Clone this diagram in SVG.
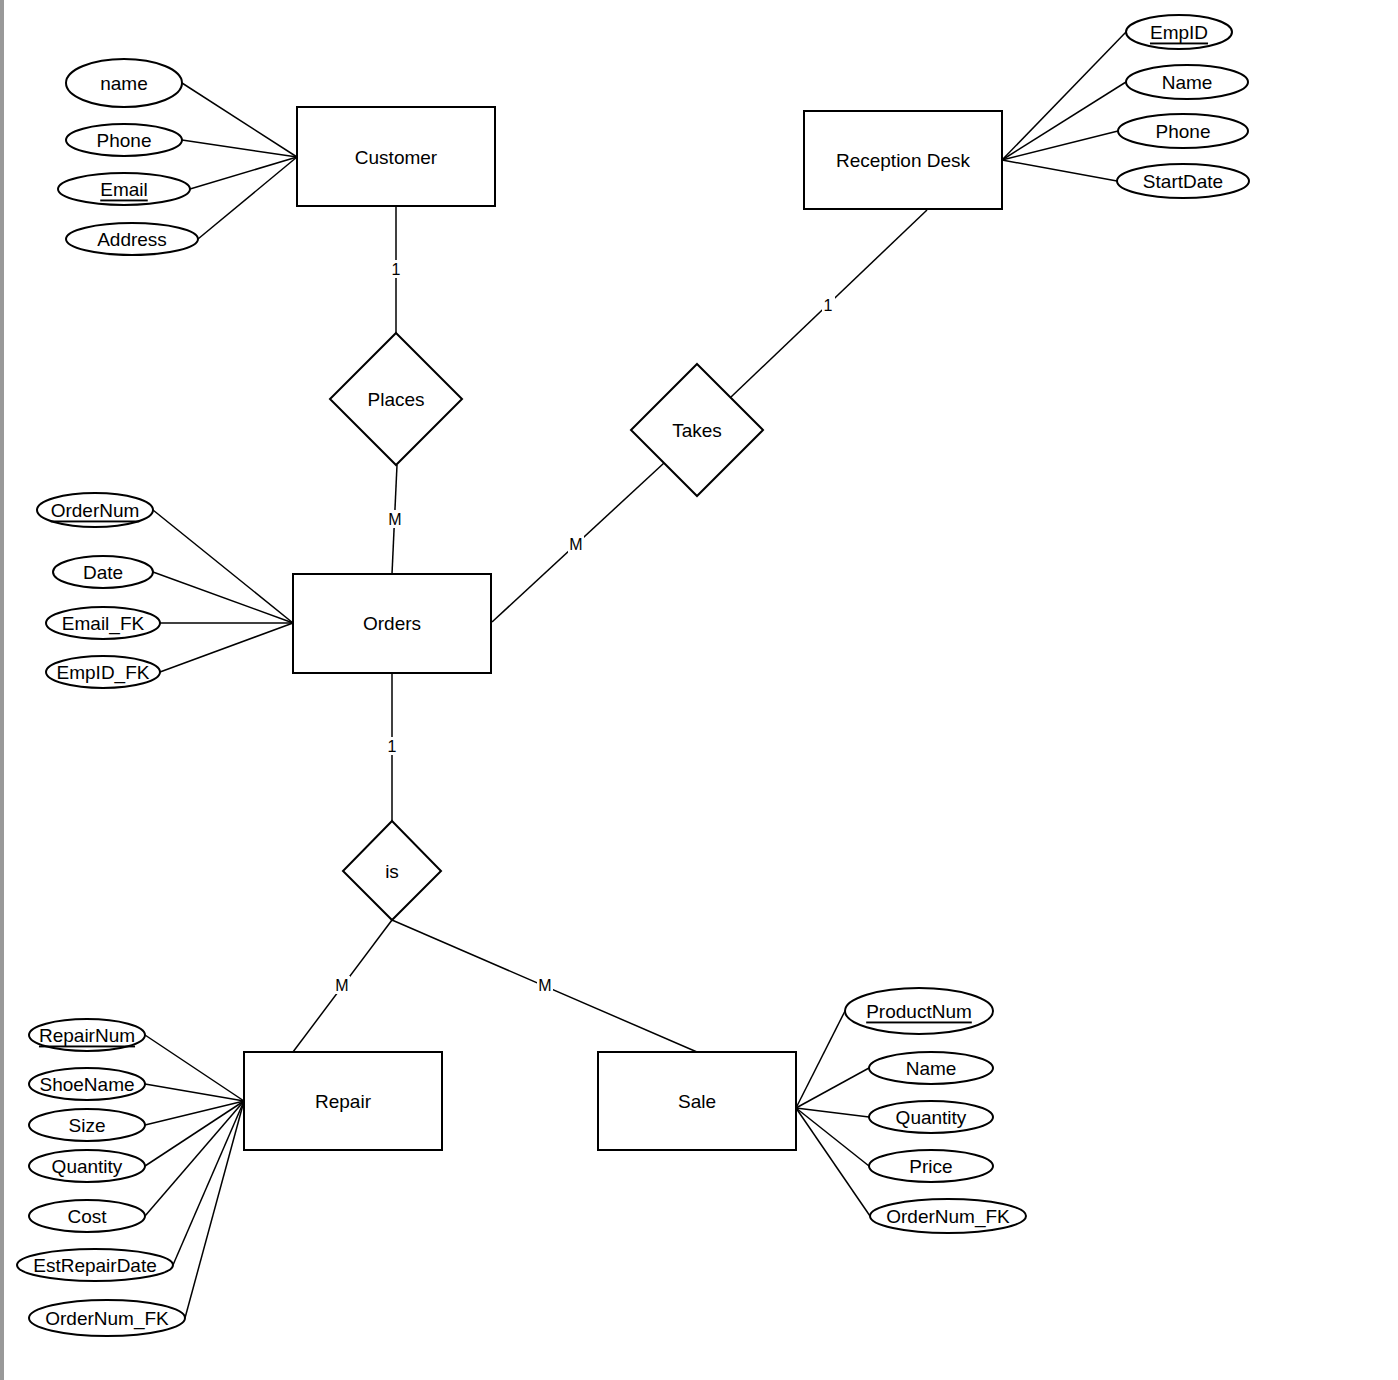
<svg xmlns="http://www.w3.org/2000/svg" width="1398" height="1380" viewBox="0 0 1398 1380">
<style>
.s{fill:#fff;stroke:#000;stroke-width:2}
text{font-family:"Liberation Sans",Arial,sans-serif;font-size:19px;text-anchor:middle;dominant-baseline:central;fill:#000}
.u{text-decoration:underline}
.c line{stroke:#000;stroke-width:1.5}
.lb{fill:#fff}
.k{font-size:16px}
</style>
<rect width="1398" height="1380" fill="#fff"/>
<rect x="0" y="0" width="4" height="1380" fill="#999"/>
<g class="c" id="connectors">
<line x1="297" y1="157" x2="182" y2="83"/><line x1="297" y1="157" x2="182" y2="140"/><line x1="297" y1="157" x2="190" y2="189"/><line x1="297" y1="157" x2="198" y2="239"/>
<line x1="1002" y1="160" x2="1126" y2="32"/><line x1="1002" y1="160" x2="1126" y2="82"/><line x1="1002" y1="160" x2="1118" y2="131"/><line x1="1002" y1="160" x2="1117" y2="181"/>
<line x1="396" y1="206" x2="396" y2="333"/><line x1="397" y1="465" x2="392" y2="574"/>
<line x1="731" y1="397" x2="927" y2="210"/><line x1="664" y1="463" x2="492" y2="622"/>
<line x1="293" y1="623" x2="153" y2="510"/><line x1="293" y1="623" x2="153" y2="572"/><line x1="293" y1="623" x2="160" y2="623"/><line x1="293" y1="623" x2="160" y2="672"/>
<line x1="392" y1="673" x2="392" y2="821"/>
<line x1="392" y1="920" x2="293" y2="1052"/><line x1="392" y1="920" x2="697" y2="1052"/>
<line x1="244" y1="1101" x2="145" y2="1035"/><line x1="244" y1="1101" x2="145" y2="1084"/><line x1="244" y1="1101" x2="145" y2="1125"/><line x1="244" y1="1101" x2="145" y2="1166"/><line x1="244" y1="1101" x2="145" y2="1216"/><line x1="244" y1="1101" x2="173" y2="1265"/><line x1="244" y1="1101" x2="185" y2="1318"/>
<line x1="796" y1="1108" x2="845" y2="1011"/><line x1="796" y1="1108" x2="869" y2="1068"/><line x1="796" y1="1108" x2="869" y2="1117"/><line x1="796" y1="1108" x2="869" y2="1166"/><line x1="796" y1="1108" x2="870" y2="1216"/>
<rect class="lb" x="390" y="260" width="13" height="18"/><text class="k" x="396" y="269">1</text>
<rect class="lb" x="387" y="510" width="16" height="18"/><text class="k" x="395" y="519">M</text>
<rect class="lb" x="822" y="296" width="13" height="18"/><text class="k" x="828" y="305">1</text>
<rect class="lb" x="568" y="535" width="16" height="18"/><text class="k" x="576" y="544">M</text>
<rect class="lb" x="386" y="737" width="13" height="18"/><text class="k" x="392" y="746" fill="#600">1</text>
<rect class="lb" x="334" y="976" width="16" height="18"/><text class="k" x="342" y="985">M</text>
<rect class="lb" x="537" y="976" width="16" height="18"/><text class="k" x="545" y="985">M</text>
</g>
<g id="customer"><rect class="s" x="297" y="107" width="198" height="99"/><text x="396" y="157">Customer</text></g>
<g id="c-name"><ellipse class="s" cx="124" cy="83" rx="58" ry="24"/><text x="124" y="83">name</text></g>
<g id="c-phone"><ellipse class="s" cx="124" cy="140" rx="58" ry="16"/><text x="124" y="140">Phone</text></g>
<g id="c-email"><ellipse class="s" cx="124" cy="189" rx="66" ry="16"/><text class="u" x="124" y="189">Email</text></g>
<g id="c-address"><ellipse class="s" cx="132" cy="239" rx="66" ry="16"/><text x="132" y="239">Address</text></g>
<g id="reception"><rect class="s" x="804" y="111" width="198" height="98"/><text x="903" y="160">Reception Desk</text></g>
<g id="r-empid"><ellipse class="s" cx="1179" cy="32" rx="53" ry="17"/><text class="u" x="1179" y="32">EmpID</text></g>
<g id="r-name"><ellipse class="s" cx="1187" cy="82" rx="61" ry="17"/><text x="1187" y="82">Name</text></g>
<g id="r-phone"><ellipse class="s" cx="1183" cy="131" rx="65" ry="17"/><text x="1183" y="131">Phone</text></g>
<g id="r-start"><ellipse class="s" cx="1183" cy="181" rx="66" ry="17"/><text x="1183" y="181">StartDate</text></g>
<g id="places"><polygon class="s" points="396,333 462,399 396,465 330,399"/><text x="396" y="399">Places</text></g>
<g id="takes"><polygon class="s" points="697,364 763,430 697,496 631,430"/><text x="697" y="430">Takes</text></g>
<g id="orders"><rect class="s" x="293" y="574" width="198" height="99"/><text x="392" y="623">Orders</text></g>
<g id="o-num"><ellipse class="s" cx="95" cy="510" rx="58" ry="17"/><text class="u" x="95" y="510">OrderNum</text></g>
<g id="o-date"><ellipse class="s" cx="103" cy="572" rx="50" ry="16"/><text x="103" y="572">Date</text></g>
<g id="o-email"><ellipse class="s" cx="103" cy="623" rx="57" ry="16"/><text x="103" y="623">Email_FK</text></g>
<g id="o-emp"><ellipse class="s" cx="103" cy="672" rx="57" ry="16"/><text x="103" y="672">EmpID_FK</text></g>
<g id="is"><polygon class="s" points="392,821 441,871 392,920 343,871"/><text x="392" y="871">is</text></g>
<g id="repair"><rect class="s" x="244" y="1052" width="198" height="98"/><text x="343" y="1101">Repair</text></g>
<g id="sale"><rect class="s" x="598" y="1052" width="198" height="98"/><text x="697" y="1101">Sale</text></g>
<g id="rp-num"><ellipse class="s" cx="87" cy="1035" rx="58" ry="16"/><text class="u" x="87" y="1035">RepairNum</text></g>
<g id="rp-shoe"><ellipse class="s" cx="87" cy="1084" rx="58" ry="16"/><text x="87" y="1084">ShoeName</text></g>
<g id="rp-size"><ellipse class="s" cx="87" cy="1125" rx="58" ry="16"/><text x="87" y="1125">Size</text></g>
<g id="rp-qty"><ellipse class="s" cx="87" cy="1166" rx="58" ry="16"/><text x="87" y="1166">Quantity</text></g>
<g id="rp-cost"><ellipse class="s" cx="87" cy="1216" rx="58" ry="16"/><text x="87" y="1216">Cost</text></g>
<g id="rp-est"><ellipse class="s" cx="95" cy="1265" rx="78" ry="16"/><text x="95" y="1265">EstRepairDate</text></g>
<g id="rp-fk"><ellipse class="s" cx="107" cy="1318" rx="78" ry="18"/><text x="107" y="1318">OrderNum_FK</text></g>
<g id="s-num"><ellipse class="s" cx="919" cy="1011" rx="74" ry="23"/><text class="u" x="919" y="1011">ProductNum</text></g>
<g id="s-name"><ellipse class="s" cx="931" cy="1068" rx="62" ry="16"/><text x="931" y="1068">Name</text></g>
<g id="s-qty"><ellipse class="s" cx="931" cy="1117" rx="62" ry="16"/><text x="931" y="1117">Quantity</text></g>
<g id="s-price"><ellipse class="s" cx="931" cy="1166" rx="62" ry="16"/><text x="931" y="1166">Price</text></g>
<g id="s-fk"><ellipse class="s" cx="948" cy="1216" rx="78" ry="17"/><text x="948" y="1216">OrderNum_FK</text></g>
</svg>
